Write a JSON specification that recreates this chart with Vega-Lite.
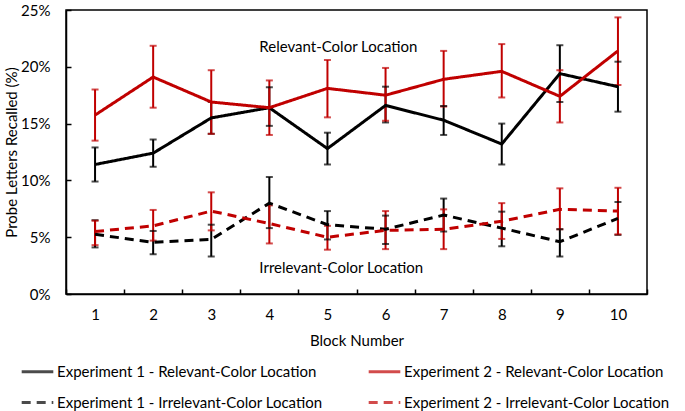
{
  "$schema": "https://vega.github.io/schema/vega-lite/v6.json",
  "width": 581,
  "height": 284,
  "autosize": {"type": "none"},
  "padding": {"left": 66, "top": 10, "right": 38, "bottom": 117},
  "config": {
    "font": "Lato",
    "view": {"stroke": "#000000", "strokeWidth": 1.5},
    "axis": {
      "domainColor": "#000000",
      "domainWidth": 1.5,
      "tickColor": "#000000",
      "tickWidth": 1.5,
      "grid": false,
      "labelFont": "Lato",
      "labelFontSize": 15,
      "labelColor": "#000000",
      "titleFont": "Lato",
      "titleFontSize": 15,
      "titleFontWeight": "normal",
      "titleColor": "#000000"
    },
    "legend": {"labelFont": "Lato", "labelFontSize": 15, "labelColor": "#000000", "labelLimit": 0}
  },
  "data": {
    "values": [
      {"series": "Experiment 1 - Relevant-Color Location", "block": 1, "value": 11.4, "lo": 9.9, "hi": 12.9},
      {"series": "Experiment 1 - Relevant-Color Location", "block": 2, "value": 12.4, "lo": 11.2, "hi": 13.6},
      {"series": "Experiment 1 - Relevant-Color Location", "block": 3, "value": 15.5, "lo": 14.1, "hi": 16.9},
      {"series": "Experiment 1 - Relevant-Color Location", "block": 4, "value": 16.4, "lo": 14.8, "hi": 18.2},
      {"series": "Experiment 1 - Relevant-Color Location", "block": 5, "value": 12.8, "lo": 11.4, "hi": 14.2},
      {"series": "Experiment 1 - Relevant-Color Location", "block": 6, "value": 16.6, "lo": 15.1, "hi": 18.25},
      {"series": "Experiment 1 - Relevant-Color Location", "block": 7, "value": 15.3, "lo": 14.0, "hi": 16.55},
      {"series": "Experiment 1 - Relevant-Color Location", "block": 8, "value": 13.2, "lo": 11.4, "hi": 15.0},
      {"series": "Experiment 1 - Relevant-Color Location", "block": 9, "value": 19.4, "lo": 16.9, "hi": 21.9},
      {"series": "Experiment 1 - Relevant-Color Location", "block": 10, "value": 18.25, "lo": 16.05, "hi": 20.45},
      {"series": "Experiment 1 - Irrelevant-Color Location", "block": 1, "value": 5.25, "lo": 4.1, "hi": 6.5},
      {"series": "Experiment 1 - Irrelevant-Color Location", "block": 2, "value": 4.55, "lo": 3.5, "hi": 5.55},
      {"series": "Experiment 1 - Irrelevant-Color Location", "block": 3, "value": 4.8, "lo": 3.3, "hi": 6.1},
      {"series": "Experiment 1 - Irrelevant-Color Location", "block": 4, "value": 8.0, "lo": 5.8, "hi": 10.3},
      {"series": "Experiment 1 - Irrelevant-Color Location", "block": 5, "value": 6.1, "lo": 4.8, "hi": 7.3},
      {"series": "Experiment 1 - Irrelevant-Color Location", "block": 6, "value": 5.7, "lo": 4.4, "hi": 6.9},
      {"series": "Experiment 1 - Irrelevant-Color Location", "block": 7, "value": 6.95, "lo": 5.5, "hi": 8.4},
      {"series": "Experiment 1 - Irrelevant-Color Location", "block": 8, "value": 5.8, "lo": 4.2, "hi": 7.25},
      {"series": "Experiment 1 - Irrelevant-Color Location", "block": 9, "value": 4.6, "lo": 3.3, "hi": 5.7},
      {"series": "Experiment 1 - Irrelevant-Color Location", "block": 10, "value": 6.65, "lo": 5.2, "hi": 8.1},
      {"series": "Experiment 2 - Relevant-Color Location", "block": 1, "value": 15.75, "lo": 13.5, "hi": 18.0},
      {"series": "Experiment 2 - Relevant-Color Location", "block": 2, "value": 19.1, "lo": 16.4, "hi": 21.85},
      {"series": "Experiment 2 - Relevant-Color Location", "block": 3, "value": 16.9, "lo": 14.1, "hi": 19.7},
      {"series": "Experiment 2 - Relevant-Color Location", "block": 4, "value": 16.4, "lo": 14.0, "hi": 18.8},
      {"series": "Experiment 2 - Relevant-Color Location", "block": 5, "value": 18.1, "lo": 15.55, "hi": 20.6},
      {"series": "Experiment 2 - Relevant-Color Location", "block": 6, "value": 17.5, "lo": 15.25, "hi": 19.9},
      {"series": "Experiment 2 - Relevant-Color Location", "block": 7, "value": 18.9, "lo": 16.5, "hi": 21.4},
      {"series": "Experiment 2 - Relevant-Color Location", "block": 8, "value": 19.6, "lo": 17.3, "hi": 22.0},
      {"series": "Experiment 2 - Relevant-Color Location", "block": 9, "value": 17.4, "lo": 15.1, "hi": 19.7},
      {"series": "Experiment 2 - Relevant-Color Location", "block": 10, "value": 21.4, "lo": 18.4, "hi": 24.35},
      {"series": "Experiment 2 - Irrelevant-Color Location", "block": 1, "value": 5.5, "lo": 4.3, "hi": 6.45},
      {"series": "Experiment 2 - Irrelevant-Color Location", "block": 2, "value": 6.0, "lo": 4.7, "hi": 7.4},
      {"series": "Experiment 2 - Irrelevant-Color Location", "block": 3, "value": 7.3, "lo": 5.6, "hi": 8.95},
      {"series": "Experiment 2 - Irrelevant-Color Location", "block": 4, "value": 6.2, "lo": 4.45, "hi": 7.8},
      {"series": "Experiment 2 - Irrelevant-Color Location", "block": 5, "value": 5.0, "lo": 3.9, "hi": 6.0},
      {"series": "Experiment 2 - Irrelevant-Color Location", "block": 6, "value": 5.6, "lo": 3.95, "hi": 7.3},
      {"series": "Experiment 2 - Irrelevant-Color Location", "block": 7, "value": 5.7, "lo": 3.95, "hi": 7.45},
      {"series": "Experiment 2 - Irrelevant-Color Location", "block": 8, "value": 6.4, "lo": 4.85, "hi": 8.0},
      {"series": "Experiment 2 - Irrelevant-Color Location", "block": 9, "value": 7.45, "lo": 5.7, "hi": 9.3},
      {"series": "Experiment 2 - Irrelevant-Color Location", "block": 10, "value": 7.3, "lo": 5.25, "hi": 9.35}
    ]
  },
  "encoding": {
    "x": {
      "field": "block",
      "type": "ordinal",
      "scale": {"type": "band", "paddingInner": 0, "paddingOuter": 0},
      "axis": {"title": "Block Number", "labelAngle": 0, "tickBand": "extent", "tickSize": -5, "labelPadding": 18, "titlePadding": 11}
    },
    "y": {
      "type": "quantitative",
      "scale": {"domain": [0, 25], "nice": false, "zero": true},
      "axis": {"title": "Probe Letters Recalled (%)", "values": [0, 5, 10, 15, 20, 25], "labelExpr": "datum.value + '%'", "tickSize": -5, "labelPadding": 21, "titlePadding": 1}
    },
    "color": {
      "field": "series",
      "type": "nominal",
      "scale": {
        "domain": ["Experiment 1 - Relevant-Color Location", "Experiment 2 - Relevant-Color Location", "Experiment 1 - Irrelevant-Color Location", "Experiment 2 - Irrelevant-Color Location"],
        "range": ["#000000", "#c00000", "#000000", "#c00000"]
      },
      "legend": {
        "title": null,
        "orient": "none",
        "legendX": -46,
        "legendY": 344,
        "direction": "horizontal",
        "columns": 2,
        "columnPadding": 39,
        "rowPadding": 5,
        "symbolType": "stroke",
        "symbolSize": 1000,
        "symbolStrokeWidth": 3,
        "labelOffset": 2
      }
    }
  },
  "layer": [
    {
      "mark": {"type": "rule", "strokeWidth": 2},
      "encoding": {"y": {"field": "lo", "type": "quantitative"}, "y2": {"field": "hi"}}
    },
    {
      "mark": {"type": "tick", "thickness": 2, "size": 7},
      "encoding": {"y": {"field": "lo", "type": "quantitative"}}
    },
    {
      "mark": {"type": "tick", "thickness": 2, "size": 7},
      "encoding": {"y": {"field": "hi", "type": "quantitative"}}
    },
    {
      "mark": {"type": "line", "strokeWidth": 3},
      "encoding": {
        "y": {"field": "value", "type": "quantitative"},
        "strokeDash": {
          "field": "series",
          "type": "nominal",
          "scale": {
            "domain": ["Experiment 1 - Relevant-Color Location", "Experiment 2 - Relevant-Color Location", "Experiment 1 - Irrelevant-Color Location", "Experiment 2 - Irrelevant-Color Location"],
            "range": [[1, 0], [1, 0], [9, 6], [9, 6]]
          }
        }
      }
    },
    {
      "data": {"values": [
        {"label": "Relevant-Color Location", "block": 4, "value": 21.7},
        {"label": "Irrelevant-Color Location", "block": 4, "value": 2.3}
      ]},
      "mark": {"type": "text", "align": "left", "baseline": "middle", "dx": -10, "fontSize": 15, "font": "Lato", "color": "#000000"},
      "encoding": {
        "x": {"field": "block", "type": "ordinal"},
        "y": {"field": "value", "type": "quantitative"},
        "text": {"field": "label"},
        "color": null
      }
    }
  ]
}
